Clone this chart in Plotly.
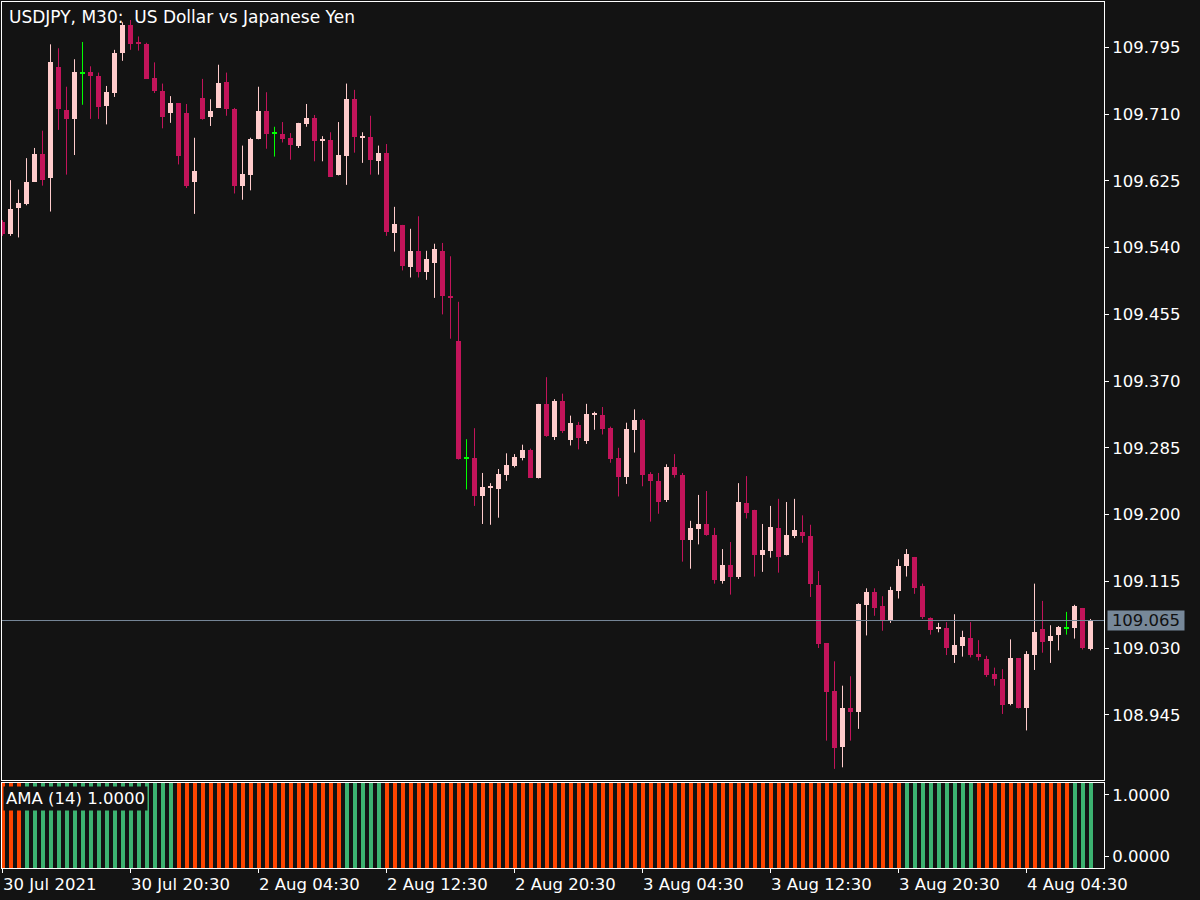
import plotly.graph_objects as go

# ---------------- data ----------------
opens = [109.573, 109.557, 109.590, 109.596, 109.624, 109.659, 109.629, 109.770, 109.715, 109.704,
         109.763, 109.764, 109.759, 109.721, 109.737, 109.788, 109.824, 109.802, 109.800, 109.756,
         109.740, 109.711, 109.724, 109.712, 109.624, 109.731, 109.706, 109.718, 109.751, 109.717,
         109.619, 109.633, 109.678, 109.714, 109.686, 109.685, 109.680, 109.670, 109.698, 109.705,
         109.676, 109.677, 109.632, 109.657, 109.729, 109.680, 109.681, 109.651, 109.661, 109.559,
         109.569, 109.515, 109.536, 109.509, 109.521, 109.536, 109.479, 109.421, 109.272, 109.272,
         109.224, 109.234, 109.233, 109.251, 109.262, 109.272, 109.282, 109.247, 109.341, 109.299,
         109.345, 109.295, 109.314, 109.294, 109.327, 109.327, 109.310, 109.272, 109.248, 109.308,
         109.321, 109.252, 109.243, 109.219, 109.261, 109.250, 109.168, 109.182, 109.188, 109.174,
         109.115, 109.136, 109.121, 109.215, 109.206, 109.148, 109.153, 109.183, 109.148, 109.173,
         109.178, 109.173, 109.110, 109.036, 108.975, 108.904, 108.954, 108.949, 109.085, 109.101,
         109.084, 109.064, 109.102, 109.134, 109.146, 109.109, 109.068, 109.055, 109.055, 109.021,
         109.032, 109.043, 109.022, 109.016, 108.997, 108.991, 108.959, 109.017, 108.953, 109.021,
         109.054, 109.039, 109.046, 109.056, 109.055, 109.081, 109.029]
highs = [109.575, 109.626, 109.614, 109.654, 109.667, 109.689, 109.799, 109.794, 109.745, 109.780,
         109.802, 109.771, 109.763, 109.746, 109.792, 109.827, 109.830, 109.809, 109.801, 109.776,
         109.749, 109.733, 109.724, 109.723, 109.680, 109.755, 109.729, 109.773, 109.763, 109.718,
         109.670, 109.680, 109.745, 109.738, 109.694, 109.700, 109.686, 109.699, 109.723, 109.709,
         109.682, 109.687, 109.700, 109.749, 109.741, 109.687, 109.708, 109.670, 109.672, 109.592,
         109.569, 109.564, 109.580, 109.536, 109.545, 109.546, 109.529, 109.471, 109.296, 109.310,
         109.253, 109.240, 109.258, 109.278, 109.277, 109.289, 109.284, 109.341, 109.375, 109.347,
         109.354, 109.326, 109.318, 109.341, 109.331, 109.337, 109.312, 109.285, 109.317, 109.334,
         109.322, 109.254, 109.253, 109.264, 109.277, 109.253, 109.192, 109.225, 109.230, 109.183,
         109.156, 109.165, 109.240, 109.249, 109.206, 109.188, 109.211, 109.220, 109.216, 109.220,
         109.199, 109.187, 109.128, 109.036, 109.013, 108.982, 108.994, 109.087, 109.106, 109.106,
         109.096, 109.108, 109.143, 109.156, 109.146, 109.112, 109.069, 109.062, 109.063, 109.073,
         109.052, 109.063, 109.040, 109.020, 109.005, 109.003, 109.041, 109.017, 109.026, 109.112,
         109.090, 109.059, 109.058, 109.076, 109.085, 109.081, 109.067]
lows = [109.555, 109.555, 109.553, 109.594, 109.624, 109.619, 109.586, 109.690, 109.633, 109.658,
        109.722, 109.704, 109.704, 109.697, 109.732, 109.778, 109.792, 109.791, 109.755, 109.737,
        109.692, 109.699, 109.646, 109.616, 109.583, 109.703, 109.695, 109.718, 109.708, 109.609,
        109.601, 109.613, 109.678, 109.666, 109.656, 109.674, 109.652, 109.667, 109.694, 109.650,
        109.650, 109.630, 109.632, 109.620, 109.661, 109.648, 109.633, 109.633, 109.555, 109.535,
        109.511, 109.502, 109.502, 109.499, 109.476, 109.455, 109.424, 109.270, 109.232, 109.211,
        109.188, 109.187, 109.196, 109.243, 109.260, 109.269, 109.247, 109.246, 109.299, 109.295,
        109.304, 109.288, 109.283, 109.290, 109.308, 109.302, 109.266, 109.223, 109.239, 109.279,
        109.236, 109.191, 109.201, 109.216, 109.247, 109.140, 109.131, 109.162, 109.173, 109.112,
        109.112, 109.098, 109.118, 109.195, 109.121, 109.127, 109.145, 109.126, 109.148, 109.170,
        109.164, 109.095, 109.030, 108.912, 108.876, 108.878, 108.912, 108.927, 109.046, 109.071,
        109.052, 109.062, 109.093, 109.121, 109.099, 109.067, 109.047, 109.050, 109.021, 109.011,
        109.019, 109.018, 109.014, 108.993, 108.982, 108.946, 108.957, 108.953, 108.925, 109.002,
        109.024, 109.011, 109.027, 109.047, 109.042, 109.028, 109.027]
closes = [109.557, 109.589, 109.597, 109.624, 109.659, 109.626, 109.776, 109.716, 109.704, 109.764,
          109.763, 109.759, 109.719, 109.738, 109.788, 109.824, 109.800, 109.799, 109.755, 109.740,
          109.707, 109.724, 109.657, 109.619, 109.638, 109.704, 109.714, 109.750, 109.716, 109.619,
          109.634, 109.678, 109.714, 109.685, 109.686, 109.678, 109.671, 109.699, 109.705, 109.676,
          109.678, 109.630, 109.658, 109.729, 109.681, 109.682, 109.652, 109.661, 109.560, 109.570,
          109.516, 109.536, 109.509, 109.526, 109.538, 109.479, 109.477, 109.271, 109.272, 109.223,
          109.235, 109.236, 109.252, 109.263, 109.273, 109.282, 109.247, 109.341, 109.300, 109.345,
          109.306, 109.317, 109.298, 109.328, 109.329, 109.309, 109.271, 109.248, 109.309, 109.321,
          109.251, 109.243, 109.216, 109.261, 109.251, 109.168, 109.183, 109.188, 109.174, 109.116,
          109.136, 109.121, 109.216, 109.202, 109.148, 109.155, 109.184, 109.146, 109.174, 109.180,
          109.173, 109.111, 109.035, 108.974, 108.902, 108.954, 108.949, 109.086, 109.101, 109.081,
          109.064, 109.104, 109.135, 109.150, 109.107, 109.069, 109.053, 109.056, 109.030, 109.034,
          109.044, 109.021, 109.018, 108.996, 108.990, 108.958, 109.017, 108.953, 109.022, 109.050,
          109.038, 109.045, 109.057, 109.056, 109.084, 109.030, 109.065]

time_tick_bars = [0, 16, 32, 48, 64, 80, 96, 112, 128]
time_tick_text = ["30 Jul 2021", "30 Jul 20:30", "2 Aug 04:30", "2 Aug 12:30", "2 Aug 20:30",
                  "3 Aug 04:30", "3 Aug 12:30", "3 Aug 20:30", "4 Aug 04:30"]
price_ticks = [109.795, 109.710, 109.625, 109.540, 109.455, 109.370, 109.285,
               109.200, 109.115, 109.030, 108.945]
last_price = 109.065

# AMA(14) signal: run lengths of (state, bars); value shown is 1.0000 for every bar
ama_runs = [("down", 3), ("up", 19), ("down", 21), ("up", 5), ("down", 65),
            ("up", 9), ("down", 12), ("up", 3)]
ama_value = 1.0
ama_ticks = ["1.0000", "0.0000"]

title_text = "USDJPY, M30:\u00a0 US Dollar vs Japanese Yen"
ind_label = "AMA (14) 1.0000"

# ---------------- style ----------------
BG = "#131313"
BULL = "#FFCCCC"
BEAR = "#C2145A"
DOJI = "#00FF00"
AMA_UP = "#3CB371"
AMA_DN = "#FF4500"
FG = "#FFFFFF"
PRICE_LINE = "#778899"
FONT = "DejaVu Sans"
FS = 16.5

n = len(opens)
idx = list(range(n))

ama_state = []
for s, k in ama_runs:
    ama_state += [s] * k
ama_colors = [AMA_UP if s == "up" else AMA_DN for s in ama_state]

cand_colors = []
for o, c in zip(opens, closes):
    cand_colors.append(BULL if c > o else (BEAR if c < o else DOJI))

MIN_BODY = 0.0013
body_base = []
body_h = []
for o, c in zip(opens, closes):
    h = abs(c - o)
    if h < MIN_BODY:
        body_base.append(min(o, c) - (MIN_BODY - h) / 2)
        body_h.append(MIN_BODY)
    else:
        body_base.append(min(o, c))
        body_h.append(h)

fig = go.Figure()

# wicks
for col in (BULL, BEAR, DOJI):
    xs, ys = [], []
    for i in idx:
        if cand_colors[i] == col:
            xs += [i, i, None]
            ys += [lows[i], highs[i], None]
    fig.add_trace(go.Scatter(x=xs, y=ys, mode="lines", line=dict(color=col, width=1),
                             hoverinfo="skip", xaxis="x", yaxis="y"))

# bodies
fig.add_trace(go.Bar(x=idx, y=body_h, base=body_base, width=0.625,
                     marker=dict(color=cand_colors, line=dict(width=0)),
                     xaxis="x", yaxis="y", hoverinfo="skip"))

# indicator histogram
fig.add_trace(go.Bar(x=idx, y=[ama_value] * n, width=0.5,
                     marker=dict(color=ama_colors, line=dict(width=0)),
                     xaxis="x2", yaxis="y2", hoverinfo="skip"))

# ---------------- layout ----------------
PX_PER_BAR = 8.0
plot_w = 1102.0
x0 = -0.5 / PX_PER_BAR
x1 = x0 + plot_w / PX_PER_BAR

plot_h = 866.0
price_dom = [(868 - 780) / plot_h, 1.0]
ind_dom = [0.0, (868 - 783) / plot_h]

px_per_unit = 785.0
y_hi = 109.030 + (648 - 2) / px_per_unit
y_lo = 109.030 - (780 - 648) / px_per_unit

axis_common = dict(showgrid=False, zeroline=False, showline=True, mirror=True,
                   linecolor=FG, linewidth=1, tickcolor=FG)

fig.update_layout(
    width=1200, height=900,
    margin=dict(l=2, r=96, t=2, b=32),
    paper_bgcolor=BG, plot_bgcolor=BG,
    showlegend=False, barmode="overlay", bargap=0,
    font=dict(family=FONT, size=FS, color=FG),
    xaxis=dict(domain=[0, 1], range=[x0, x1], anchor="y", showticklabels=False,
               ticks="", **axis_common),
    yaxis=dict(domain=price_dom, range=[y_lo, y_hi], anchor="x", side="right",
               tickvals=price_ticks, tickformat=".3f", ticks="outside", ticklen=4,
               **axis_common),
    xaxis2=dict(domain=[0, 1], range=[x0, x1], anchor="y2", tickvals=time_tick_bars,
                showticklabels=False, ticks="outside", ticklen=4, **axis_common),
    yaxis2=dict(domain=ind_dom, range=[0, 1], anchor="x2", side="right",
                tickvals=[0.86, 0.14], ticktext=ama_ticks, ticks="outside", ticklen=4,
                **axis_common),
)

# current price line and label
fig.add_shape(type="line", xref="x domain", yref="y", x0=0, x1=1, y0=last_price, y1=last_price,
              line=dict(color=PRICE_LINE, width=1))
fig.add_annotation(xref="paper", yref="y", x=1, y=last_price, xanchor="left", yanchor="middle",
                   xshift=3, text=f"{last_price:.3f}", showarrow=False, bgcolor=PRICE_LINE,
                   font=dict(color="#111111", size=FS, family=FONT), width=76, height=19,
                   align="center", borderpad=0)

# time axis labels (left-aligned at ticks, MT style)
for b, t in zip(time_tick_bars, time_tick_text):
    fig.add_annotation(xref="x2", yref="paper", x=b, y=0, xanchor="left", yanchor="top",
                       yshift=-5, xshift=-2, text=t, showarrow=False,
                       font=dict(color=FG, size=FS, family=FONT))

# title
fig.add_annotation(xref="paper", yref="paper", x=0, y=1, xanchor="left", yanchor="top",
                   xshift=5, yshift=-3, text=title_text, showarrow=False,
                   font=dict(color=FG, size=17, family=FONT))

# indicator label
fig.add_annotation(xref="paper", yref="y2 domain", x=0, y=1, xanchor="left", yanchor="top",
                   xshift=1, yshift=-3, text=ind_label, showarrow=False, bgcolor=BG,
                   borderpad=2, font=dict(color=FG, size=FS, family=FONT))

fig.write_html("out.html", config={"displayModeBar": False},
               post_script="document.body.style.margin='0';document.body.style.padding='0';"
                           "document.body.style.overflow='hidden';")
